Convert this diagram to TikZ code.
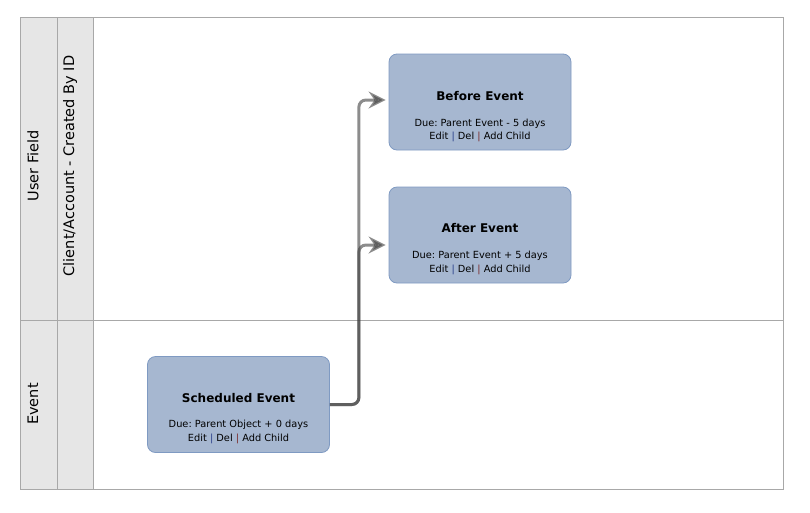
\documentclass[tikz,border=0pt]{standalone}
\usepackage{fontspec}
\setmainfont{DejaVu Sans}
\usetikzlibrary{arrows.meta,positioning}
\definecolor{laneline}{HTML}{A8A8A8}
\definecolor{headfill}{HTML}{E6E6E6}
\definecolor{boxfill}{HTML}{A6B7D0}
\definecolor{boxline}{HTML}{7F9AC2}
\definecolor{barblue}{HTML}{2A3F8A}
\definecolor{barred}{HTML}{7A2A2A}
\newcommand{\bbar}{\textcolor{barblue}{|}}
\newcommand{\rbar}{\textcolor{barred}{|}}
\newcommand{\evlinks}{Edit \bbar{} Del \rbar{} Add Child}
\frenchspacing

\begin{document}
\begin{tikzpicture}[
  x=1pt, y=-1pt,
  every node/.style={inner sep=0pt},
  lane/.style={draw=laneline, line width=0.8pt},
  head/.style={fill=headfill},
  lanelabel/.style={rotate=90, font=\fontsize{14.5}{16}\selectfont},
  evbox/.style={draw=boxline, fill=boxfill, line width=0.8pt, rounded corners=8pt,
    minimum width=182pt, minimum height=96pt},
  evtitle/.style={font=\fontsize{12}{14}\selectfont\bfseries},
  evinfo/.style={font=\fontsize{9.8}{12}\selectfont, align=center},
  flow/.style={-{Stealth[length=17pt, width=17pt, inset=6pt]}, line width=3pt,
    black!75, opacity=0.6, rounded corners=7pt, shorten >=3pt}
]
\useasboundingbox (0,0) rectangle (810,512);

% swimlane frame
\fill[head] (20,17) rectangle (93,489);
\draw[lane] (20,17) rectangle (783,489);
\draw[lane] (57,17) -- (57,489) (93,17) -- (93,489);
\draw[lane] (20,320) -- (783,320);
\node[lanelabel] (userfield) at (33,166) {User Field};
\node[lanelabel] (createdby) at (70,166) {Client/Account - Created By ID};
\node[lanelabel] (eventlane) at (33,404) {Event};

% events
\node[evbox] (before) at (480,102) {};
\node[evtitle] (beforet) at ([yshift=6pt]before.center) {Before Event};
\node[evinfo] (befored) at ([yshift=-22pt]before.center) {Due: Parent Event - 5 days};
\node[evinfo] (beforel) at ([yshift=-35pt]before.center) {\evlinks};

\node[evbox] (after) at (480,235) {};
\node[evtitle] (aftert) at ([yshift=7pt]after.center) {After Event};
\node[evinfo] (afterd) at ([yshift=-21pt]after.center) {Due: Parent Event + 5 days};
\node[evinfo] (afterl) at ([yshift=-35pt]after.center) {\evlinks};

\node[evbox] (sched) at (238.5,404.5) {};
\node[evtitle] (schedt) at ([yshift=6.5pt]sched.center) {Scheduled Event};
\node[evinfo] (schedd) at ([yshift=-20.5pt]sched.center) {Due: Parent Object + 0 days};
\node[evinfo] (schedl) at ([yshift=-34.5pt]sched.center) {\evlinks};

% connectors
\draw[flow] (sched.east) -- ++(29,0) |- ([yshift=2pt]before.west);
\draw[flow] (sched.east) -- ++(29,0) |- ([yshift=-10pt]after.west);
\end{tikzpicture}
\end{document}
